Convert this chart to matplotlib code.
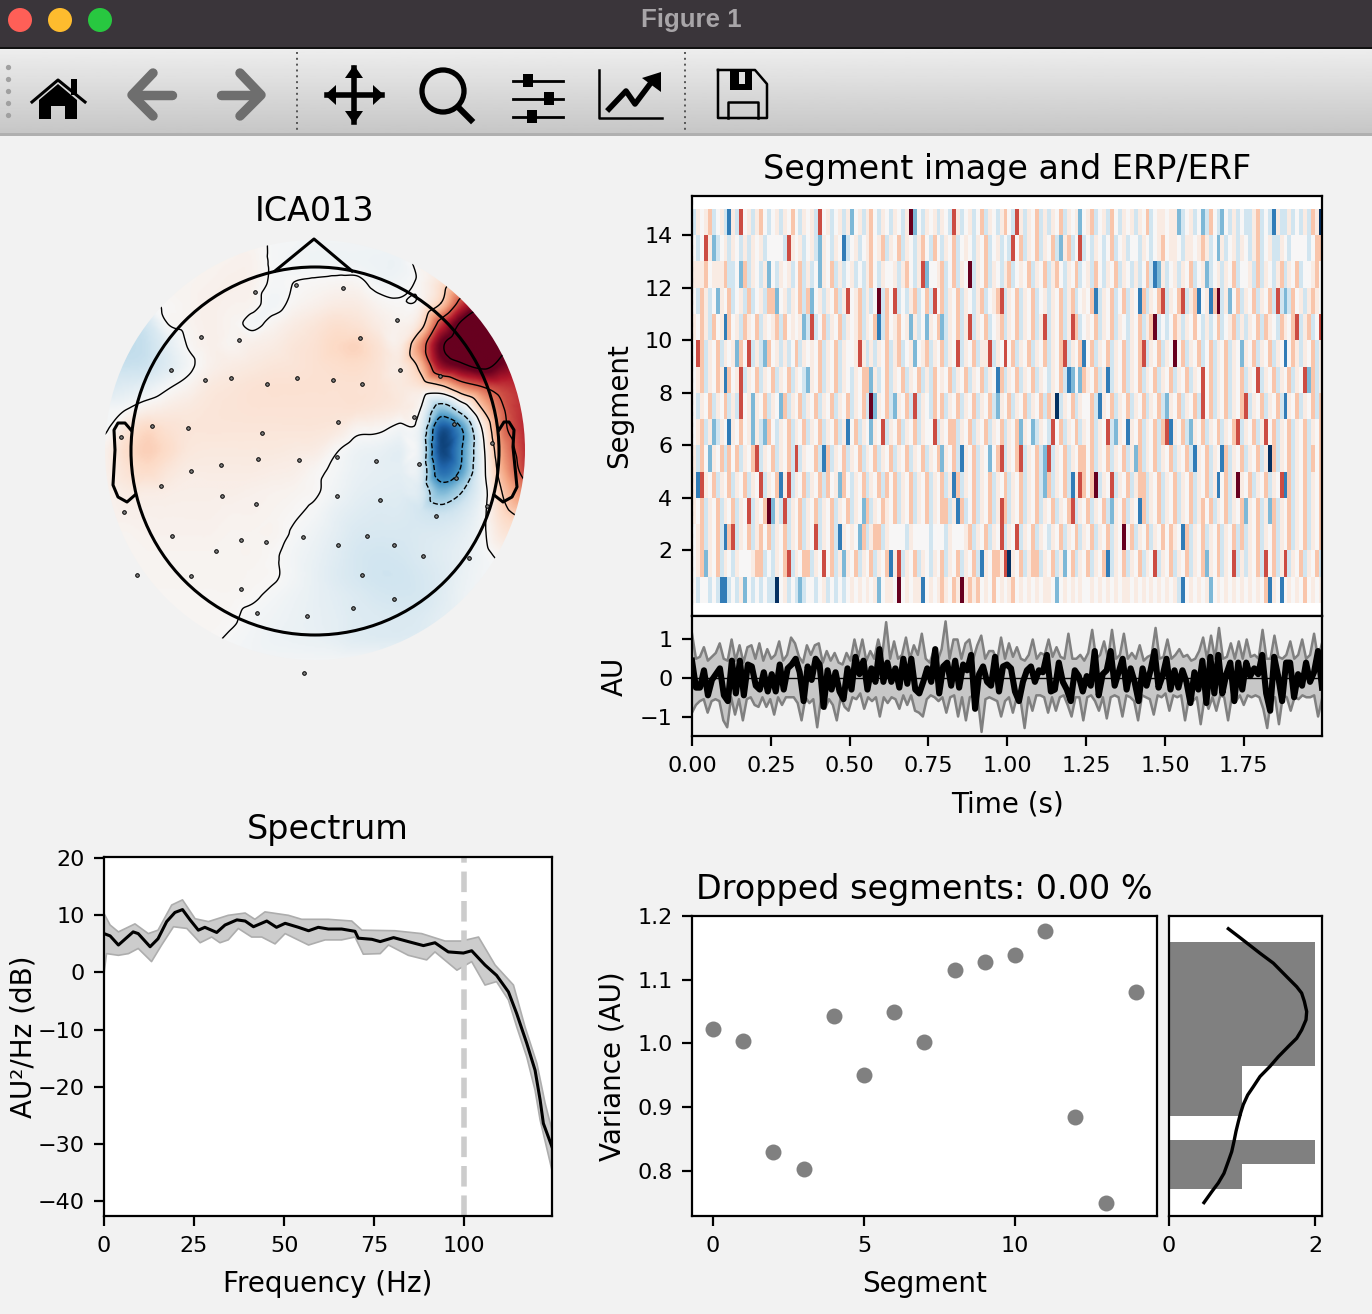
import numpy as np
import matplotlib
matplotlib.use('Agg')
import matplotlib.pyplot as plt
import matplotlib.tri as mtri
from matplotlib.patches import Circle, Rectangle, Polygon

W, H = 1372, 1314
BG = '#f2f2f2'

plt.rcParams['xtick.labelsize'] = 8
plt.rcParams['ytick.labelsize'] = 8
plt.rcParams['axes.labelsize'] = 10
plt.rcParams['xtick.major.pad'] = 3.8

topo_values = [
    [3, 3, 3, 3, 3, 3, 3, 3, -1, -2, -3, -3, -3, -3, -3, 3, 5, 10, 20, 30, 30],
    [3, 3, 3, 3, 3, 3, 4, 4, -1, -3, -4, -4, -4, -5, -5, 3, 8, 20, 40, 60, 60],
    [3, 3, 3, 3, 3, 4, 5, 4, -1, 0, 1, 2, 2, -3, -3, 2, 15, 40, 70, 90, 90],
    [-15, -15, -2, 1, 3, 5, 4, 3, -3, 2, 5, 8, 8, 3, 1, 3, 25, 70, 100, 110, 110],
    [-25, -25, -18, 0, 3, 5, 3, -2, 3, 8, 12, 16, 14, 8, 4, 15, 70, 110, 120, 120, 110],
    [-25, -25, -22, -10, 1, 5, 3, 6, 8, 12, 15, 20, 22, 14, 7, 45, 100, 120, 120, 110, 100],
    [-22, -22, -20, -12, -2, 5, 8, 10, 12, 13, 15, 17, 18, 14, 9, 30, 85, 100, 110, 95, 85],
    [-15, -12, -8, -1, 4, 10, 12, 14, 15, 15, 15, 15, 15, 14, 10, 12, 20, 45, 60, 70, 75],
    [-3, -1, 5, 8, 10, 12, 13, 14, 14, 14, 14, 14, 14, 12, 9, 1, -40, -15, 28, 60, 75],
    [-2, 12, 20, 15, 12, 12, 12, 12, 12, 12, 12, 10, 3, 2, -3, -8, -85, -60, 3, 55, 75],
    [5, 18, 24, 18, 11, 10, 10, 10, 10, 9, 8, 1, -5, -7, -10, -8, -90, -60, -4, 45, 72],
    [5, 14, 18, 12, 8, 8, 8, 8, 7, 6, 2, -2, -7, -9, -10, -10, -75, -55, -5, 38, 68],
    [4, 8, 8, 7, 6, 6, 6, 5, 4, 3, 1, -4, -9, -11, -12, -14, -45, -30, -6, 28, 50],
    [4, 5, 5, 5, 5, 5, 4, 4, 3, 1, -2, -8, -12, -14, -14, -18, -22, -16, -3, 20, 30],
    [3, 3, 4, 4, 4, 4, 3, 3, 3, -1, -5, -10, -15, -16, -16, -15, -14, -10, -2, 12, 15],
    [3, 3, 3, 3, 3, 3, 3, 3, 1, -3, -7, -12, -17, -19, -18, -15, -12, -8, -3, 3, 5],
    [3, 3, 3, 3, 3, 3, 3, 2, 1, -3, -8, -13, -17, -20, -20, -17, -13, -7, -3, -2, -2],
    [2, 2, 2, 2, 2, 2, 2, 1, -2, -5, -8, -11, -14, -17, -18, -17, -12, -6, -3, -2, -2],
    [2, 2, 2, 2, 2, 2, 1, -2, -4, -6, -8, -10, -13, -14, -15, -14, -10, -6, -3, -2, -2],
    [2, 2, 2, 2, 2, 1, -1, -3, -5, -6, -7, -9, -12, -13, -13, -12, -8, -5, -3, -2, -2],
    [-3, -3, -3, -3, -3, -3, -3, -3, -3, -3, -3, -3, -3, -3, -3, -3, -3, -3, -3, -3, -3],
]
topo_levels = [-0.6, -0.3, 0, 0.25, 0.6, 1.05]

sensor_x = [255, 296, 343, 397, 201, 239, 360, 171, 400, 440, 205, 231, 267, 297, 333, 362, 338, 414, 454, 152,
            188, 262, 121, 492, 337, 258, 299, 376, 221, 419, 191, 456, 161, 222, 337, 380, 256, 124, 487, 436,
            172, 303, 241, 266, 367, 338, 394, 216, 423, 469, 137, 191, 362, 241, 394, 257, 353, 307, 304]
sensor_y = [292, 285, 288, 320, 337, 340, 338, 370, 370, 376, 380, 378, 384, 378, 380, 384, 422, 417, 424, 426,
            428, 433, 437, 443, 457, 459, 460, 461, 465, 464, 471, 478, 486, 496, 496, 500, 504, 512, 506, 516,
            536, 537, 540, 542, 536, 545, 545, 551, 556, 558, 575, 576, 575, 589, 599, 613, 608, 616, 673]

# segment image, one string per segment from the top row, digits index level_values
# only the strong stripes (digits 0-2, 7, 8) are placed from the picture, at about 4 px resolution;
# the pale digits between them are typed filler that gives the texture, not a reading of each stripe
level_values = [-1.0, -0.7, -0.45, -0.2, 0.0, 0.08, 0.28, 0.65, 1.0]
segment_rows = [
    "3545634531 5374535643 4535464354 5374534535 2453564354 3543582435 4535437534 5346354356 4375354635 3546354524 5634536435 4535463455 4552345342 3643243534 3356343153 3534353650",
    "4347523453 5435354534 4443754534 5325435413 4534564563 5463543564 3643546345 4354634534 3746354635 4632563473 4354346345 3443543456 4554355456 5342534535 4356345335 4344443466",
    "5556455563 3426354352 4354534635 3425463534 5343564354 4535643572 4456346354 8354635435 6345463546 3564354634 5364354635 4353463125 3453546345 2345354634 4536354356 3546344564",
    "4365342546 3453634536 6245354636 2453546357 4563534836 4734356346 3746354635 4356345673 5463546345 3546356345 4613546346 3541635467 3546735614 5168352463 5463546373 2364535654",
    "5465364516 4536546354 5636454523 7346354635 4563546136 4564525342 5462354635 7354634563 5463546357 3546357634 5463546354 3546356834 3465354643 5346345635 3546365436 5467356347",
    "4763546354 5264735326 4535346354 5463546354 4575353546 3563452456 3546354735 4635573547 4635463546 3546735461 4635463546 3546735463 5484635463 4635463542 5463546354 1465354635",
    "4563546516 4573546354 6354635432 5463546354 3546625346 3546354635 3645463546 3546354163 5463546354 3546312426 5463513546 3546354635 4635463547 4635463546 3547354635 4635472635",
    "4354635463 5374525463 5426354635 4635463546 3546382546 3254637354 3646354635 4635463254 6354635463 6503546354 4631546354 6354635463 2546354637 4635463546 7354635463 1546354636",
    "4563523541 5464525326 4354635463 5463546351 4635425473 5463546354 4735466354 6354635463 5462542354 3746354635 4635473254 1546354636 7154632546 3546354673 5463574635 4635463546",
    "5364254636 4635467354 6354637354 4631635463 5463546354 6354635463 5462546315 4635424673 5467354632 7354635466 4635463546 3526354635 4635463154 6354163546 3546350635 4635463646",
    "5175463546 3546354735 4615735463 5463645264 3546354636 4635463546 3546351635 4635463546 3546354632 6354631576 4683547354 6356635463 5463546354 6351463585 4635463547 1635463546",
    "5463546354 6354735468 2537354635 4635463546 3542635465 4635463546 3546635163 4635463576 3546354635 4635467354 6354632546 3541635463 5463546356 4635463546 2546352635 4635463546",
    "4563546316 7354635646 3546354635 4735463154 5426356635 4444354444 3444354445 6354635473 5473546354 3546354635 4635463548 4635463546 4654163546 3546354636 3546354635 4635463546",
    "4562546354 3544456634 3546735466 3547463525 4635463546 1573546354 3546354635 4631546657 0546356635 4635246354 6354613546 3546354735 4635463546 2546354735 3546374635 7354635463",
    "4344343113 4352434343 3045343234 4345343434 5454545245 5484545514 5456546585 6564546454 5645454545 5424545454 4545454545 5454545454 5453145454 5245454545 4545461541 4545464545",
]
segment_ticks = [2, 4, 6, 8, 10, 12, 14]
time_max = 1.998
time_ticks = [0.0, 0.25, 0.5, 0.75, 1.0, 1.25, 1.5, 1.75]

# ERP/ERF trace, AU x 100, about one value every 4 px
# the larger peaks are read from the picture, the smaller swings between them are rough estimates
erp_mean = [45, -25, -25, 20, -45, -5, 10, 25, -45, -60, 45, -40, 45, -45, 35, 30, -20, -30, 15, -35,
            10, -35, 35, -30, 25, 35, 50, 15, -60, 30, -5, 50, 35, -75, 20, -30, 15, -35, -55, 25,
            -30, 55, 10, 45, -30, 25, -10, 75, -10, 40, -10, 25, -25, 50, -15, 50, -30, -40, -10, 25,
            -10, 75, -40, 30, 40, -20, 45, -25, 35, 20, 60, -80, 10, 30, -10, -20, 55, -35, 30,
            35, 25, -35, -60, -10, 20, 30, -10, 20, 15, 60, -35, -30, 40, -10, -30, -60, 20, 5, -35,
            5, -20, 70, -45, 10, 20, 70, -20, 15, 50, -30, 25, -10, -60, 25, -20, 20, 70, -25, 5,
            50, -30, 20, -25, 20, -10, -65, 15, -30, 45, -65, 55, -40, 60, -40, 10, 40, -60, 40, -30,
            40, 5, 25, 10, 60, -40, -85, 55, 5, -60, 40, 40, -50, 10, -20, 40, -10, 15, 70, -25]
erp_upper = [115, 50, 55, 80, 45, 55, 65, 90, 50, 45, 100, 45, 85, 40, 80, 85, 50, 90, 45, 75,
             50, 60, 95, 45, 60, 105, 90, 55, 40, 85, 60, 85, 90, 40, 70, 45, 65, 40, 35, 65,
             45, 100, 55, 100, 45, 70, 50, 100, 60, 145, 50, 95, 50, 60, 105, 50, 85, 60, 115, 50,
             40, 70, 45, 75, 147, 50, 100, 100, 50, 90, 100, 50, 85, 110, 50, 70, 70, 45, 105, 50,
             90, 55, 80, 50, 45, 60, 100, 50, 65, 60, 100, 55, 80, 55, 50, 115, 50, 50, 60, 45,
             65, 125, 50, 60, 95, 50, 125, 50, 60, 115, 50, 65, 50, 85, 45, 55, 60, 130, 50, 55,
             100, 50, 60, 75, 55, 60, 45, 50, 70, 105, 50, 110, 50, 130, 50, 55, 90, 50, 95, 50,
             100, 55, 60, 50, 125, 50, 50, 110, 55, 50, 60, 95, 50, 60, 100, 50, 60, 115, 50, 90]
erp_lower = [-90, -70, -60, -55, -90, -60, -55, -60, -110, -128, -50, -95, -55, -110, -55, -50, -70, -75, -50, -75,
             -55, -95, -50, -70, -50, -50, -50, -65, -110, -50, -65, -55, -128, -50, -80, -55, -70, -110, -50, -75,
             -85, -50, -55, -40, -80, -50, -60, -50, -100, -50, -65, -50, -55, -80, -45, -70, -45, -85, -90, -100,
             -55, -45, -50, -60, -50, -90, -50, -45, -100, -50, -110, -50, -45, -50, -140, -55, -50, -55, -60, -100,
             -60, -50, -90, -50, -60, -130, -50, -85, -45, -45, -50, -90, -50, -85, -50, -45, -70, -100, -50, -50,
             -110, -50, -45, -60, -85, -50, -105, -50, -45, -50, -100, -45, -50, -60, -110, -45, -50, -55, -95, -45,
             -50, -40, -85, -45, -50, -45, -110, -50, -60, -50, -120, -50, -80, -50, -85, -45, -50, -110, -45, -60,
             -45, -70, -45, -50, -45, -50, -80, -130, -50, -50, -120, -45, -50, -85, -50, -55, -45, -50, -50, -45, -100, -55]

# spectrum, turning points only, the fine jitter of the curves is left out
psd_freq = [0, 1.7, 4, 8.1, 9.5, 12.8, 15, 17.4, 19.7, 21.8, 23.9, 26.2, 28, 31.3, 33.6, 36.9, 39.2, 41.5, 45.2, 47.9,
            50.3, 54, 56.8, 59.5, 62.3, 66, 69.7, 70.6, 74.4, 76.7, 80.4, 84.5, 88.7, 91.9, 95.6, 99.8, 102.1, 105.8,
            109, 112.3, 114.6, 117.4, 119.7, 121.1, 122, 124.4]
psd_mean = [6.8, 6.4, 4.8, 7.1, 6.8, 4.5, 5.9, 8.9, 10.5, 11.0, 9.2, 7.4, 7.9, 7.0, 8.3, 9.2, 9.0, 8.0, 9.0, 7.9,
            8.6, 7.9, 7.3, 7.9, 7.6, 7.6, 7.2, 6.0, 5.8, 5.4, 6.1, 5.4, 4.7, 5.2, 3.6, 3.4, 3.8, 1.3,
            -0.5, -3.4, -7.2, -12.4, -17.1, -22.3, -26.4, -30.5]
upper_freq = [0, 1.7, 4, 8.6, 12.3, 15, 18.8, 21.8, 25.3, 29, 34.5, 39.2, 41.9, 44.7, 51.2, 54.9, 62.3, 68.8, 71.6,
              80.8, 88.2, 94.7, 99.3, 104, 108.6, 113.7, 116.9, 120.2, 122.5, 124.4]
psd_upper = [10.3, 8.3, 7.1, 8.5, 6.8, 7.4, 11.8, 12.7, 9.4, 8.9, 10, 10.4, 9.3, 10.6, 10, 9.3, 9.3, 9, 7.4,
             7.3, 6.8, 5.5, 5.5, 6.2, 1.3, -2.2, -9.5, -15.9, -22.9, -27.6]
lower_freq = [0, 0.7, 4, 6.8, 9.5, 13.2, 16, 19.3, 23, 26.7, 29.9, 32.2, 34.5, 37.3, 41, 43.8, 47.5, 50.3, 56.8, 61.4,
              66, 69.7, 72, 76.7, 79, 84.5, 89.6, 91.9, 98, 102.1, 105.8, 109, 112.3, 114.6, 117.4, 119.7, 121.1, 124.4]
psd_lower = [-0.2, 3.3, 3, 3.3, 4.2, 1.9, 4.8, 8, 7.7, 5.2, 6.2, 5.2, 5.7, 7.7, 6.2, 6.2, 5, 6.8, 4.8, 5.7,
             5.7, 6.2, 3.2, 3.3, 4.8, 3, 2.2, 3.6, 0.4, 1.9, -2.2, -1.6, -4.8, -9.5, -14.8, -20.6, -25.8, -34.6]
lowpass_freq = 100

# segment variance
segment_id = [0, 1, 2, 3, 4, 5, 6, 7, 8, 9, 10, 11, 12, 13, 14]
variance = [1.023, 1.003, 0.83, 0.803, 1.043, 0.95, 1.049, 1.002, 1.115, 1.128, 1.138, 1.177, 0.885, 0.75, 1.08]

hist_edges = [0.771, 0.81, 0.849, 0.886, 0.965, 1.159]
hist_counts = [1, 2, 0, 1, 2]
kde_x = [0.479, 0.585, 0.676, 0.753, 0.813, 0.859, 0.89, 0.918, 0.95, 0.982, 1.018, 1.078, 1.155, 1.247, 1.384,
         1.497, 1.634, 1.749, 1.817, 1.877, 1.886, 1.854, 1.817, 1.749, 1.61, 1.429, 1.247, 0.973, 0.813]
kde_y = [0.75, 0.767, 0.781, 0.796, 0.815, 0.83, 0.846, 0.862, 0.877, 0.891, 0.904, 0.919, 0.932, 0.948, 0.964,
         0.979, 0.995, 1.008, 1.021, 1.037, 1.05, 1.066, 1.079, 1.089, 1.105, 1.126, 1.1415, 1.166, 1.18]


def px_axes(left, top, right, bottom, **kw):
    return fig.add_axes([left / W, 1 - bottom / H, (right - left) / W, (bottom - top) / H], **kw)


fig = plt.figure(figsize=(W / 200, H / 200), dpi=200, facecolor=BG)

# window title bar and toolbar, drawn in screen pixels
chrome = px_axes(0, 0, W, H)
chrome.set_xlim(0, W)
chrome.set_ylim(H, 0)
chrome.axis('off')
chrome.set_zorder(-1)
chrome.add_patch(Rectangle((0, 0), W, 47, color='#3a353a', lw=0))
chrome.add_patch(Rectangle((0, 47), W, 2, color='#111111', lw=0))
chrome.imshow(np.linspace(0.93, 0.78, 60)[:, None], extent=(0, W, 133, 49), cmap='gray', vmin=0, vmax=1, aspect='auto')
chrome.add_patch(Rectangle((0, 133), W, 3, color='#b0b0b0', lw=0))
chrome.set_xlim(0, W)
chrome.set_ylim(H, 0)
for cx, col in zip([20, 60, 100], ['#ff5f57', '#febc2e', '#28c840']):
    chrome.add_patch(Circle((cx, 20), 12, color=col, lw=0))
chrome.text(691, 20, 'Figure 1', color='#a8a5a8', fontsize=9.3, fontweight='bold', ha='center', va='center',
            family='Liberation Sans')
chrome.plot([8] * 5, [67, 79, 91, 103, 115], 'o', color='#a0a0a0', ms=0.9)
for sx in [297, 685]:
    chrome.plot([sx, sx], [52, 132], color='#555555', lw=0.7, ls=(0, (1, 2)))
# home
chrome.add_patch(Polygon([(39, 100), (58, 84), (77, 100), (77, 119), (65, 119), (65, 106), (51, 106), (51, 119), (39, 119)],
                         color='k', lw=0))
chrome.plot([32, 58, 85], [102, 80, 102], color='k', lw=1.1)
chrome.add_patch(Rectangle((71, 79), 6, 16, color='k', lw=0))
# back and forward
chrome.plot([153, 132, 153], [73, 95, 116], color='#6e6e6e', lw=3.4, solid_capstyle='round', solid_joinstyle='round')
chrome.plot([135, 172], [95, 95], color='#6e6e6e', lw=3.4, solid_capstyle='round')
chrome.plot([240, 261, 240], [73, 95, 116], color='#6e6e6e', lw=3.4, solid_capstyle='round', solid_joinstyle='round')
chrome.plot([221, 258], [95, 95], color='#6e6e6e', lw=3.4, solid_capstyle='round')
# pan
chrome.plot([327, 382], [95, 95], color='k', lw=2)
chrome.plot([354, 354], [68, 122], color='k', lw=2)
for tri_pts in ([(354, 65), (345, 78), (363, 78)], [(354, 124), (345, 111), (363, 111)],
                [(325, 95), (336, 85), (336, 105)], [(384, 95), (373, 85), (373, 105)]):
    chrome.add_patch(Polygon(tri_pts, color='k', lw=0))
# zoom
chrome.add_patch(Circle((443, 91), 21, fill=False, ec='k', lw=1.9))
chrome.plot([458, 471], [107, 120], color='k', lw=2.2)
# sliders
for sy, kx in zip([81, 99, 117], [528, 549, 532]):
    chrome.plot([513, 563], [sy, sy], color='k', lw=1)
    chrome.add_patch(Rectangle((kx - 5, sy - 7), 10, 13, color='k', lw=0))
# edit axes
chrome.plot([599, 599, 662], [70, 118, 118], color='k', lw=0.9)
chrome.plot([609, 626, 635, 653], [109, 91, 104, 80], color='k', lw=2)
chrome.add_patch(Polygon([(661, 72), (661, 92), (642, 78)], color='k', lw=0))
# save
chrome.plot([718, 755, 767, 767, 718, 718], [70, 70, 84, 118, 118, 70], color='k', lw=0.9)
chrome.add_patch(Rectangle((730, 70), 22, 20, color='k', lw=0))
chrome.add_patch(Rectangle((739, 72), 6, 12, color='#e0e0e0', lw=0))
chrome.plot([728, 728, 758, 758], [118, 102, 102, 118], color='k', lw=0.9)

# topomap
ax_topo = px_axes(100, 230, 530, 680)
ax_topo.set_facecolor('none')
ax_topo.axis('off')
grid_x = np.linspace(105, 525, 21)
grid_y = np.linspace(240, 660, 21)
gx, gy = np.meshgrid(grid_x, grid_y)
topo = np.array(topo_values) / 100
tri = mtri.Triangulation(gx.ravel(), gy.ravel())
interp = mtri.CubicTriInterpolator(tri, topo.ravel(), kind='geom')
fx, fy = np.meshgrid(np.linspace(105, 525, 281), np.linspace(240, 660, 281))
field = interp(fx, fy)
clip = Circle((315, 450), 210, transform=ax_topo.transData)
im = ax_topo.imshow(field, extent=(105, 525, 660, 240), cmap='RdBu_r', vmin=-1, vmax=1, interpolation='bilinear')
im.set_clip_path(clip)
cs = ax_topo.contour(fx, fy, field, levels=topo_levels, colors='k', linewidths=0.5)
cs.set_clip_path(clip)
ax_topo.plot(sensor_x, sensor_y, 'o', mfc='0.5', mec='k', mew=0.35, ms=1.3, ls='none')
ax_topo.add_patch(Circle((315, 451), 184, fill=False, ec='k', lw=1.1))
ax_topo.plot([275, 314, 352], [271, 239, 271], color='k', lw=1.1)
ax_topo.plot([131, 125, 118, 114, 115, 113, 118, 127, 135], [430, 423, 423, 430, 450, 485, 497, 502, 495], color='k', lw=1.1)
ax_topo.plot([499, 504, 509, 514, 513, 517, 512, 503, 494], [430, 422, 422, 430, 447, 487, 497, 502, 495], color='k', lw=1.1)
ax_topo.set_xlim(100, 530)
ax_topo.set_ylim(680, 230)
ax_topo.set_title('ICA013', fontsize=12, pad=3.4)

# segment image
ax_img = px_axes(692, 196, 1322, 616)
img = np.array([[level_values[int(c)] for c in row.replace(' ', '')] for row in segment_rows])
ax_img.imshow(img, extent=(0, time_max, 0, 15), aspect='auto', cmap='RdBu_r', vmin=-1, vmax=1, interpolation='nearest')
ax_img.axvline(0, color='0.75', lw=0.8, ls=(0, (2, 3)))
ax_img.set_xlim(0, time_max)
ax_img.set_ylim(-0.5, 15.5)
ax_img.set_yticks(segment_ticks)
ax_img.set_xticks([])
ax_img.set_ylabel('Segment')
ax_img.set_title('Segment image and ERP/ERF', fontsize=12)

# ERP/ERF
ax_erp = px_axes(692, 616, 1322, 736)
ax_erp.set_facecolor(BG)
t_mean = np.linspace(0, time_max, len(erp_mean))
t_up = np.linspace(0, time_max, len(erp_upper))
t_lo = np.linspace(0, time_max, len(erp_lower))
up = np.array(erp_upper) / 100
lo = np.array(erp_lower) / 100
ax_erp.fill(np.r_[t_up, t_lo[::-1]], np.r_[up, lo[::-1]], color='0.67', lw=0, alpha=0.6)
ax_erp.plot(t_up, up, color='0.5', lw=0.9)
ax_erp.plot(t_lo, lo, color='0.5', lw=0.9)
ax_erp.plot(t_mean, np.array(erp_mean) / 100, color='k', lw=2.2)
ax_erp.axhline(0, color='k', lw=0.5)
ax_erp.set_xlim(0, time_max)
ax_erp.set_ylim(-1.506, 1.61)
ax_erp.set_yticks([-1, 0, 1])
ax_erp.set_xticks(time_ticks)
ax_erp.set_xticklabels(['%.2f' % t for t in time_ticks])
ax_erp.set_xlabel('Time (s)', labelpad=5)
ax_erp.set_ylabel('AU')

# spectrum
ax_psd = px_axes(104, 857, 552, 1216)
ax_psd.fill(np.r_[upper_freq, lower_freq[::-1]], np.r_[psd_upper, psd_lower[::-1]], color='0.8', lw=0)
ax_psd.plot(upper_freq, psd_upper, color='0.68', lw=0.6)
ax_psd.plot(lower_freq, psd_lower, color='0.68', lw=0.6)
ax_psd.axvline(lowpass_freq, color='0.8', lw=2, ls='--')
ax_psd.plot(psd_freq, psd_mean, color='k', lw=1.1)
ax_psd.set_xlim(0, 124.4)
ax_psd.set_ylim(-42.6, 20.2)
ax_psd.set_xticks([0, 25, 50, 75, 100])
ax_psd.set_yticks([-40, -30, -20, -10, 0, 10, 20])
ax_psd.set_xlabel('Frequency (Hz)', labelpad=5)
ax_psd.set_ylabel('AU\u00b2/Hz (dB)', labelpad=0)
ax_psd.set_title('Spectrum', fontsize=12, pad=6.3)

# dropped segments
ax_var = px_axes(692, 916, 1157, 1216)
ax_var.scatter(segment_id, variance, color='gray', s=33, lw=0)
ax_var.set_xlim(-0.695, 14.7)
ax_var.set_ylim(0.729, 1.2)
ax_var.set_xticks([0, 5, 10])
ax_var.set_yticks([0.8, 0.9, 1.0, 1.1, 1.2])
ax_var.set_xlabel('Segment', labelpad=5)
ax_var.set_ylabel('Variance (AU)')
ax_var.set_title('Dropped segments: 0.00 %', fontsize=12)

ax_hist = px_axes(1169, 916, 1322, 1216)
ax_hist.barh(hist_edges[:-1], hist_counts, height=np.diff(hist_edges), align='edge', color='gray', lw=0)
ax_hist.plot(kde_x, kde_y, color='k', lw=1.2)
ax_hist.set_xlim(0, 2.096)
ax_hist.set_ylim(0.729, 1.2)
ax_hist.set_xticks([0, 2])
ax_hist.set_yticks([])

fig.savefig('out.png', dpi=200, facecolor=BG)
